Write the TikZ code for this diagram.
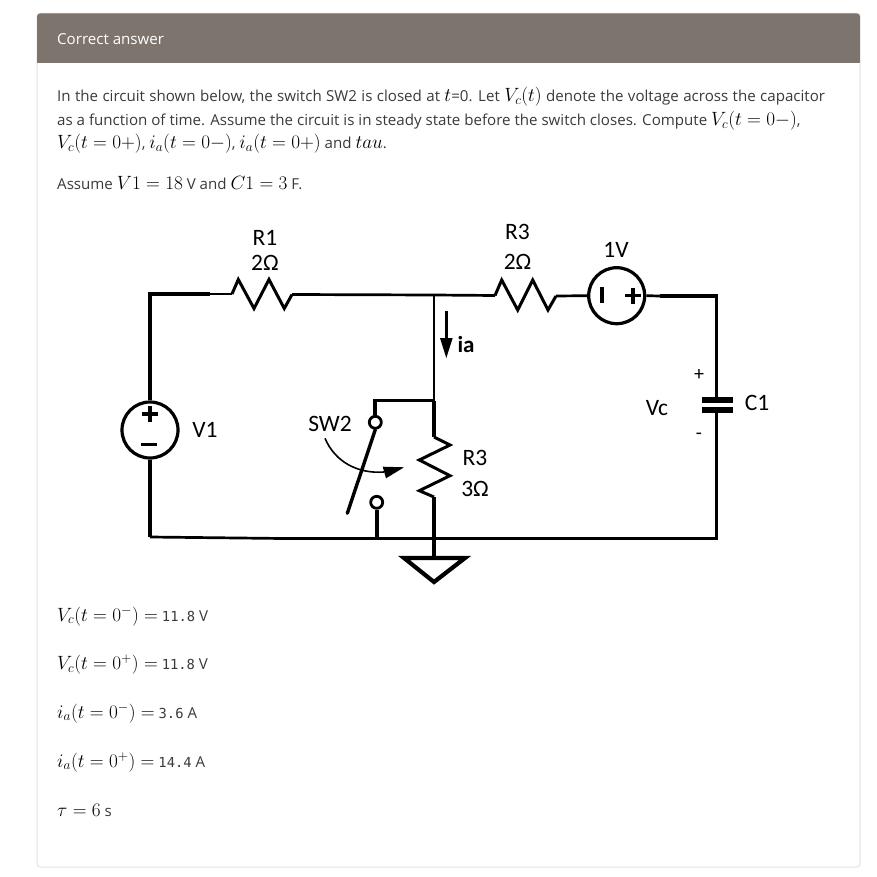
\RequirePackage{fix-cm}
\documentclass[tikz,border=0pt]{standalone}
\usepackage{fontspec}
\setmainfont{Open Sans}
\newfontfamily\cirfont{Carlito}
\newfontfamily\numfont{DejaVu Sans Mono}
\DeclareMathSizes{15.1}{19.2}{13.4}{10}
\everymath{\color{black}}
\usetikzlibrary{arrows.meta}
\definecolor{hdr}{HTML}{7D746D}
\definecolor{bord}{HTML}{E2E2E2}
\definecolor{txtc}{HTML}{3A3A3A}
\tikzset{
 txt/.style={anchor=base west,inner sep=0pt,text=txtc,font=\fontsize{15.1}{17}\selectfont},
 lab/.style={inner sep=0pt,text=black,font=\cirfont\fontsize{23.5}{26}\selectfont},
 thickw/.style={line width=3.8pt,black,line join=miter},
 thinw/.style={line width=2.7pt,black,line join=miter},
 zig/.style={line width=3pt,black,line join=miter},
 src/.style={circle,draw=black,line width=3.2pt,minimum size=56pt,inner sep=0pt,fill=white},
 cont/.style={circle,draw=black,line width=2.8pt,minimum size=12pt,inner sep=0pt,fill=white},
 sym/.style={line width=3.4pt,black},
}
\newcommand{\nm}[1]{{\numfont\fontsize{13.8}{15}\selectfont #1}}
\begin{document}
\begin{tikzpicture}[x=1pt,y=-1pt]
\useasboundingbox (0,0) rectangle (876,877);
\fill[white] (0,0) rectangle (876,877);
% card
\draw[bord,line width=1pt,rounded corners=3pt] (37,13.5) rectangle (860,867);
\begin{scope}
\clip[rounded corners=3pt] (37,13.5) rectangle (860,80);
\fill[hdr] (37,13.5) rectangle (860,63);
\end{scope}
\node[txt,text=white] (hd) at (57,44.5) {Correct answer};
% question text
\node[txt] (l1) at (57,102) {\spaceskip=4.4pt In the circuit shown below, the switch SW2 is closed at $t$=0. Let $V_c(t)$ denote the voltage across the capacitor};
\node[txt] (l2) at (57,125.5) {as a function of time. Assume the circuit is in steady state before the switch closes. Compute $V_c(t=0{-})$,};
\node[txt] (l3) at (57,149) {$V_c(t=0{+})$, $i_a(t=0{-})$, $i_a(t=0{+})$ and $tau$.};
\node[txt] (l4) at (57,190) {Assume $V1=18$ V and $C1=3$ F.};
% answers
\node[txt] (a1) at (57,621) {$V_c(t=0^-)=$ \nm{11.8} V};
\node[txt] (a2) at (57,669.5) {$V_c(t=0^+)=$ \nm{11.8} V};
\node[txt] (a3) at (57,718) {$i_a(t=0^-)=$ \nm{3.6} A};
\node[txt] (a4) at (57,767) {$i_a(t=0^+)=$ \nm{14.4} A};
\node[txt] (a5) at (57,816.5) {$\tau=6$ s};
% coordinates
\coordinate (tl) at (150,294);
\coordinate (r1a) at (232,294);
\coordinate (r1b) at (292,294.5);
\coordinate (jt) at (434,295);
\coordinate (r2a) at (495,295.5);
\coordinate (r2b) at (556,296);
\coordinate (tr) at (716.5,296);
\coordinate (br) at (716.5,538.5);
\coordinate (bl) at (150,537);
\coordinate (jb) at (434,538.5);
\coordinate (jm) at (434,400.5);
\coordinate (sw) at (375.3,400.5);
\coordinate (r3a) at (434,437);
\coordinate (r3b) at (434,497);
\coordinate (gt) at (434,558);
\coordinate (cpt) at (716.5,400);
\coordinate (cpb) at (716.5,410);
\coordinate (bs) at (376.7,538.5);
% sources and contacts
\node[src] (v1) at (150,430) {};
\node[src] (v2) at (616.7,295.7) {};
\node[cont] (c1) at (375.3,422.3) {};
\node[cont] (c2) at (376.7,502.3) {};
% wires
\draw[thickw] (v1.north) -- (tl) -- (210,294);
\draw[thickw] (v1.south) -- (bl);
\draw[thinw] (bl) -- (283,538.5);
\draw[thickw] (281,538.5) -- (br) -- (cpb);
\draw[thickw] (cpt) -- (tr) -- (660,296);
\draw[thinw] (210,294) -- (r1a);
\draw[thinw] (r1b) -- (jt) -- (r2a);
\draw[thinw] (r2b) -- (v2.west);
\draw[thinw] (v2.east) -- (660,296);
\draw[thinw] (jt) -- (jm);
\draw[thickw] (jm) -- (sw) -- (c1.north);
\draw[thickw] (c2.south) -- (bs);
\draw[thickw] (jm) -- (r3a);
\draw[thickw] (r3b) -- (jb);
\draw[thickw] (jb) -- (gt);
% resistors
\draw[zig] (r1a) -- (238.3,279.5) -- (254,308.5) -- (269,279.5) -- (284.3,308.5) -- (r1b);
\draw[zig] (r2a) -- (501.7,280) -- (517.7,310) -- (532.7,280) -- (548,310) -- (r2b);
\draw[zig] (r3a) -- (450,445) -- (419.3,460) -- (450,475.7) -- (419.3,490.7) -- (r3b);
% ground
\draw[line width=4.2pt,black,line join=miter] (404,558) -- (465,558) -- (434,582) -- cycle;
% capacitor
\draw[line width=5.5pt,black] (702,400) -- (733,400);
\draw[line width=5.5pt,black] (702,410) -- (733,410);
% source signs
\draw[sym] (142,414) -- (158,414) (150,406) -- (150,422);
\draw[sym] (141,444.5) -- (157,444.5);
\draw[line width=3.6pt,black] (602,287) -- (602,303);
\draw[sym] (625,295.5) -- (641,295.5) (633,287.5) -- (633,303.5);
% switch
\draw[line width=3.4pt,black,line cap=round] (c1.south) -- (347.3,513.3);
\draw[line width=1.6pt,black] (325,438.3) .. controls (335,462) and (358,474) .. (384,472);
\fill[black] (382.7,466.7) -- (404,467.3) -- (386,478.3) -- cycle;
% current arrow
\draw[line width=2.8pt,black] (446.3,311) -- (446.3,340);
\fill[black] (440,338) -- (452.7,338) -- (446.3,358) -- cycle;
% labels
\node[lab] (tr1) at (265,238) {R1};
\node[lab] (tr1v) at (265,263) {2Ω};
\node[lab] (tr2) at (517.5,232) {R3};
\node[lab] (tr2v) at (517.5,262) {2Ω};
\node[lab] (tv2) at (616,250) {1V};
\node[lab] (tv1) at (205,430) {V1};
\node[lab] (tsw) at (330,424) {SW2};
\node[lab] (tr3) at (475,458) {R3};
\node[lab] (tr3v) at (475,489) {3Ω};
\node[lab] (tvc) at (657,408) {Vc};
\node[lab] (tc1) at (757,403) {C1};
\node[inner sep=0pt,font=\cirfont\fontsize{20}{22}\selectfont] (tp) at (699,375) {+};
\node[inner sep=0pt,font=\cirfont\fontsize{20}{22}\selectfont] (tm) at (699,436) {-};
\node[inner sep=0pt,font=\cirfont\bfseries\fontsize{23}{26}\selectfont] (tia) at (466,345) {ia};
\end{tikzpicture}
\end{document}
